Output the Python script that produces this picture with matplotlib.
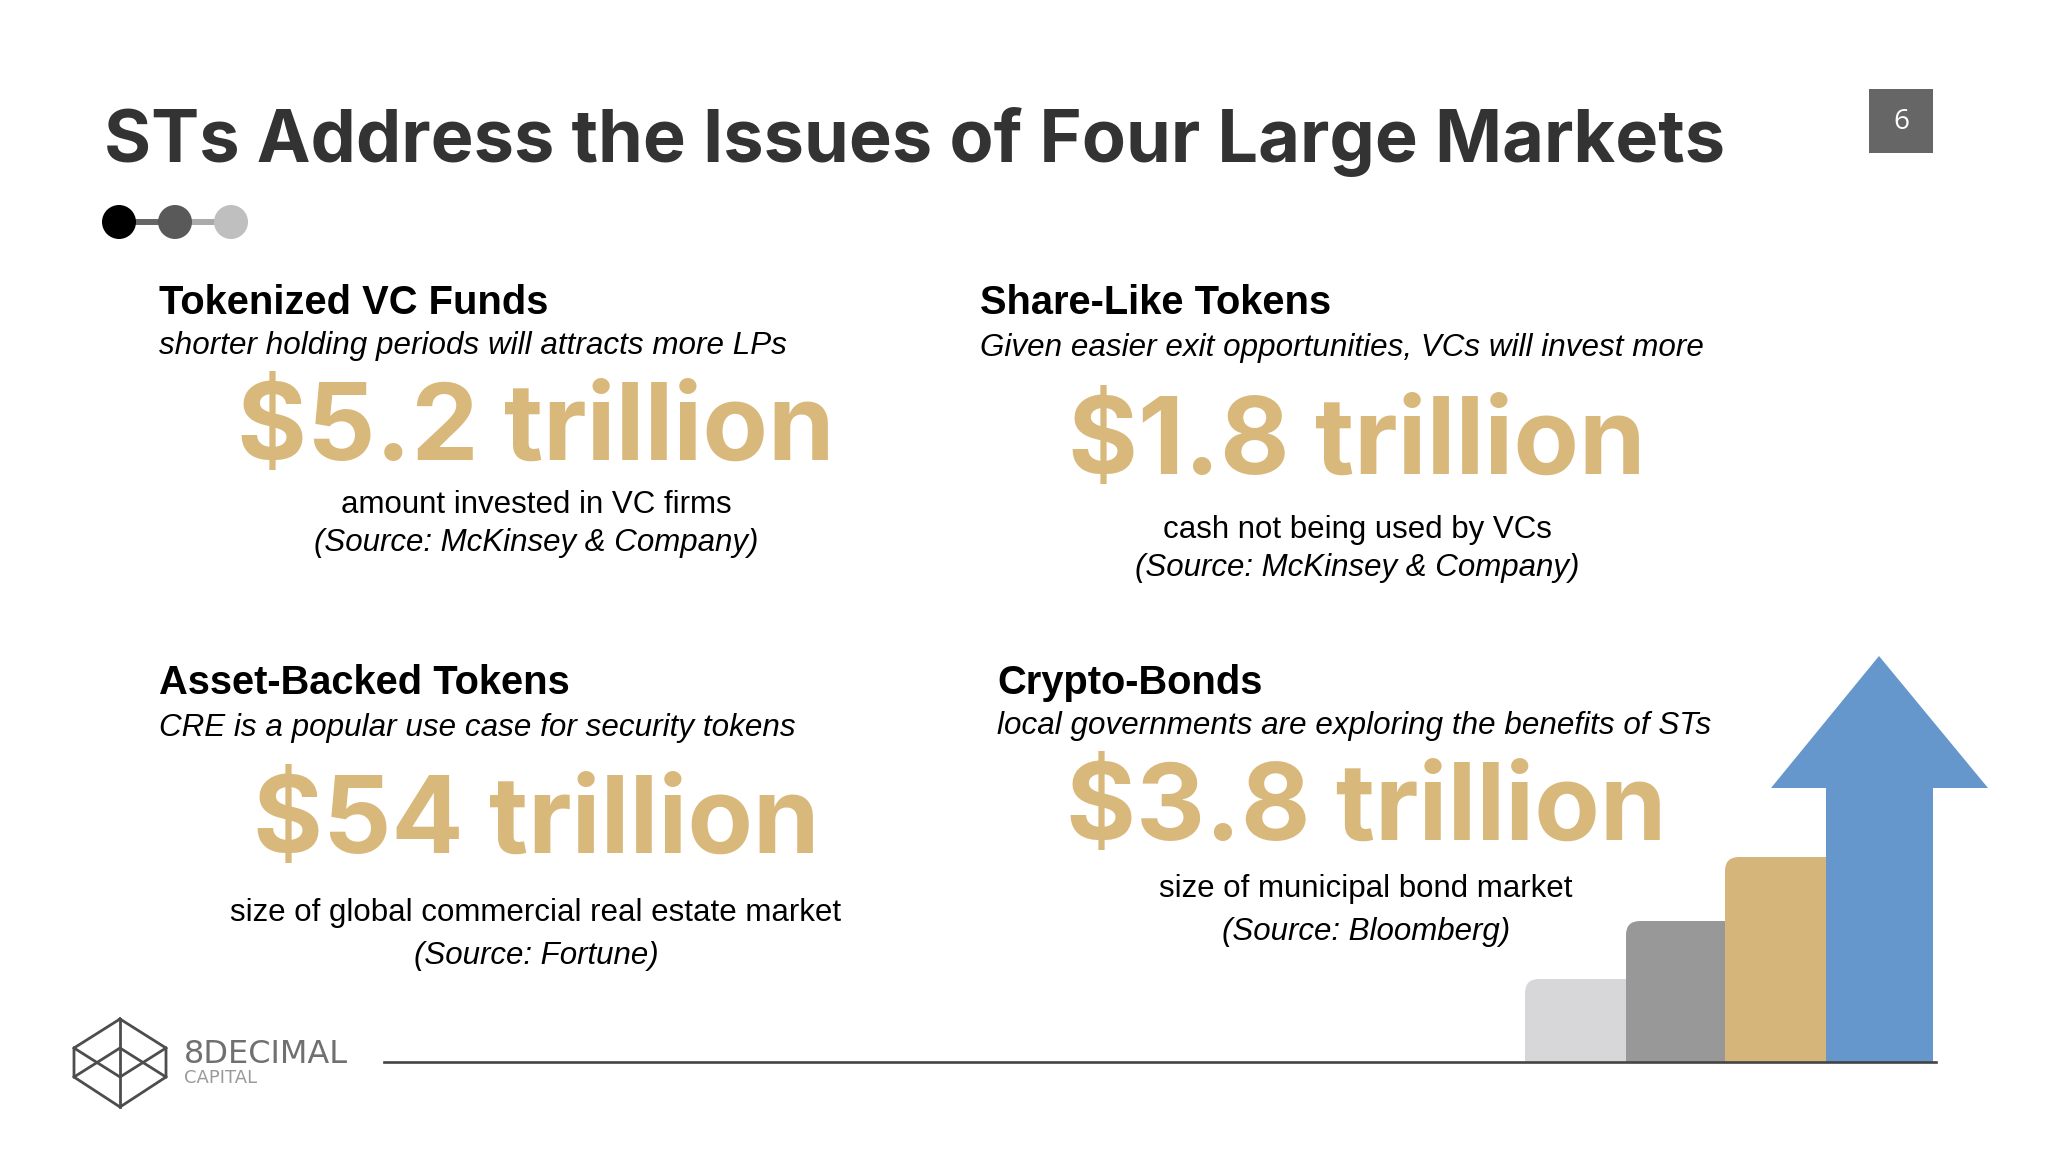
#!/usr/bin/env python3
"""Slide: STs Address the Issues of Four Large Markets."""

import matplotlib
matplotlib.use("Agg")
import matplotlib.pyplot as plt
from matplotlib.patches import Circle, PathPatch, Polygon, Rectangle
from matplotlib.path import Path

TITLE = "STs Address the Issues of Four Large Markets"
PAGE = "6"

headings = ["Tokenized VC Funds", "Share-Like Tokens", "Asset-Backed Tokens", "Crypto-Bonds"]
subtitles = [
    "shorter holding periods will attracts more LPs",
    "Given easier exit opportunities, VCs will invest more",
    "CRE is a popular use case for security tokens",
    "local governments are exploring the benefits of STs",
]
amounts = ["$5.2 trillion", "$1.8 trillion", "$54 trillion", "$3.8 trillion"]
captions = [
    "amount invested in VC firms",
    "cash not being used by VCs",
    "size of global commercial real estate market",
    "size of municipal bond market",
]
sources = [
    "(Source: McKinsey & Company)",
    "(Source: McKinsey & Company)",
    "(Source: Fortune)",
    "(Source: Bloomberg)",
]

# staircase graphic, heights above the baseline
step_heights = [83, 141, 205]
arrow_height = 406

# layout, all in pixels of the 2048x1152 slide
LEFT_X = [159, 980, 159, 997]
CENTER_X = [536, 1357, 536, 1366]
HEAD_Y = [314, 314, 694, 694]
SUB_Y = [354, 356, 736, 734]
AMOUNT_Y = [460, 474, 853, 840]
CAPTION_Y = [513, 538, 921, 897]
SOURCE_Y = [551, 576, 964, 940]

STEP_EDGES = [1525, 1626, 1725, 1826]
STEP_COLORS = ["#d7d6d9", "#999899", "#d6b57b"]
BASE_Y = 1062

GOLD = "#d9b87c"
BLUE = "#6597cc"
DARK = "#333333"
BODY = ["Liberation Sans", "DejaVu Sans"]
DISPLAY = ["Inter", "Open Sans", "DejaVu Sans"]

plt.rcParams["font.family"] = BODY

fig = plt.figure(figsize=(20.48, 11.52), dpi=100, facecolor="white")
ax = fig.add_axes([0, 0, 1, 1])
ax.set_xlim(0, 2048)
ax.set_ylim(1152, 0)
ax.axis("off")

# title, progress dots, page number
ax.text(104, 162, TITLE, fontsize=51.9, fontweight="bold", family=DISPLAY, color=DARK,
        va="baseline")
ax.plot([119, 175], [222, 222], color="#666666", lw=4.3, solid_capstyle="butt", zorder=1)
ax.plot([175, 231], [222, 222], color="#aaaaaa", lw=4.3, solid_capstyle="butt", zorder=1)
for cx, col in zip([119, 175, 231], ["#000000", "#595959", "#bfbfbf"]):
    ax.add_patch(Circle((cx, 222), 17, color=col, lw=0, zorder=2))
ax.add_patch(Rectangle((1869, 89), 64, 64, color="#666666", lw=0))
ax.text(1901, 122, PAGE, fontsize=20, family="Open Sans", color="white", ha="center", va="center")

# the four market panels
for i in range(4):
    ax.text(LEFT_X[i], HEAD_Y[i], headings[i], fontsize=28.7, fontweight="bold", color="black",
            va="baseline")
    ax.text(LEFT_X[i], SUB_Y[i], subtitles[i], fontsize=22.6, style="italic", color="black",
            va="baseline")
    ax.text(CENTER_X[i], AMOUNT_Y[i], amounts[i], fontsize=77, fontweight="bold", family=DISPLAY,
            color=GOLD, ha="center", va="baseline")
    ax.text(CENTER_X[i], CAPTION_Y[i], captions[i], fontsize=22.5, color="black", ha="center",
            va="baseline")
    ax.text(CENTER_X[i], SOURCE_Y[i], sources[i], fontsize=22.5, style="italic", color="black",
            ha="center", va="baseline")

# staircase: rounded top-left corner, square elsewhere
for x0, x1, h, col in zip(STEP_EDGES[:-1], STEP_EDGES[1:], step_heights, STEP_COLORS):
    r = 14
    top = BASE_Y - h
    verts = [(x0, BASE_Y), (x0, top + r), (x0, top), (x0 + r, top), (x1, top), (x1, BASE_Y), (x0, BASE_Y)]
    codes = [Path.MOVETO, Path.LINETO, Path.CURVE3, Path.CURVE3, Path.LINETO, Path.LINETO, Path.CLOSEPOLY]
    ax.add_patch(PathPatch(Path(verts, codes), facecolor=col, edgecolor="none", lw=0, zorder=1))

tip_y = BASE_Y - arrow_height
ax.add_patch(Polygon([(1826, BASE_Y), (1826, 788), (1771, 788), (1879, tip_y), (1988, 788),
                      (1933, 788), (1933, BASE_Y)], closed=True, color=BLUE, lw=0, zorder=2))
ax.plot([384, 1936], [BASE_Y, BASE_Y], color="#444444", lw=1.9, zorder=3)

# logo
hex_lines = [
    [(120, 1019), (166, 1048), (166, 1077), (120, 1107), (74, 1077), (74, 1048), (120, 1019)],
    [(120, 1019), (120, 1107)],
    [(74, 1048), (120, 1077), (166, 1048)],
    [(74, 1077), (120, 1048), (166, 1077)],
]
for seg in hex_lines:
    xs, ys = zip(*seg)
    ax.plot(xs, ys, color="#4d4d4d", lw=2, solid_joinstyle="miter")
ax.text(184, 1063, "8DECIMAL", fontsize=23, family="DejaVu Sans", color="#707070", va="baseline")
ax.text(184, 1083, "CAPITAL", fontsize=13, family="DejaVu Sans", color="#9a9a9a", va="baseline")

fig.savefig("out.png", dpi=100)
